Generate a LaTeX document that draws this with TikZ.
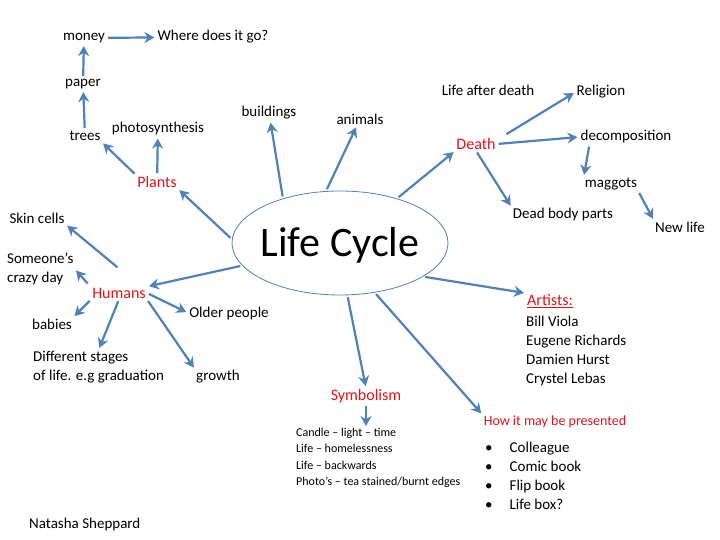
\documentclass[tikz,border=0pt]{standalone}
\usepackage{fontspec}
\setmainfont{Carlito}
\usetikzlibrary{arrows.meta,shapes.geometric}
\definecolor{ab}{HTML}{4F81BD}
\definecolor{rd}{HTML}{E3141B}
\begin{document}
\begin{tikzpicture}[x=1pt,y=-1pt,
  lab/.style={font=\fontsize{15}{19}\selectfont, inner sep=1pt},
  red lab/.style={lab, text=rd, font=\fontsize{16}{19}\selectfont},
  small/.style={font=\fontsize{12}{16.3}\selectfont, inner sep=0pt, align=left, anchor=north west},
  arr/.style={draw=ab, line width=2.2pt, -{Stealth[length=10pt,width=11pt]}, shorten >=2pt, shorten <=2pt}]
\useasboundingbox[fill=white] (0,0) rectangle (720,540);
\node[draw=ab, line width=0.8pt, ellipse, minimum width=216pt, minimum height=104pt, inner sep=0pt] (lc) at (340,243) {};
\node[font=\fontsize{42}{44}\selectfont] (lct) at (340,245) {Life Cycle};
\node[lab] (money) at (84,38) {money};
\node[lab] (where) at (213,37) {Where does it go?};
\node[lab] (paper) at (83,84) {paper};
\node[lab] (trees) at (85,136) {trees};
\node[lab] (photo) at (158,129) {photosynthesis};
\node[red lab] (plants) at (157,182) {Plants};
\node[lab] (build) at (269,113) {buildings};
\node[lab] (anim) at (360,119) {animals};
\node[lab] (lad) at (488,90) {Life after death};
\node[lab] (rel) at (601,92) {Religion};
\node[red lab] (death) at (476,144) {Death};
\node[lab] (dec) at (626,137) {decomposition};
\node[lab] (mag) at (611,184) {maggots};
\node[lab] (dbp) at (563,215) {Dead body parts};
\node[lab] (nl) at (680,227) {New life};
\node[lab] (skin) at (37,218) {Skin cells};
\node[lab, align=left, anchor=west] (crazy) at (6,269) {Someone’s\\crazy day};
\node[red lab] (hum) at (119,293) {Humans};
\node[lab] (old) at (229,313) {Older people};
\node[lab] (bab) at (52,324) {babies};
\node[lab, align=left, anchor=west] (diff) at (32,367) {Different stages\\of life. e.g graduation};
\node[lab] (grow) at (218,377) {growth};
\node[red lab, anchor=west] (art) at (526,301) {\underline{Artists:}};
\node[lab, align=left, anchor=north west, font=\fontsize{15}{18.8}\selectfont] (artl) at (525,315) {Bill Viola\\Eugene Richards\\Damien Hurst\\Crystel Lebas};
\node[red lab] (sym) at (366,396) {Symbolism};
\node[small] (syml) at (296,428) {Candle – light – time\\Life – homelessness\\Life – backwards\\Photo’s – tea stained/burnt edges};
\node[red lab, font=\fontsize{14}{16}\selectfont] (how) at (555,422) {How it may be presented};
\node[lab, align=left, anchor=north west, font=\fontsize{15}{19}\selectfont] (howl) at (484,441) {•\hspace{17pt}Colleague\\•\hspace{17pt}Comic book\\•\hspace{17pt}Flip book\\•\hspace{17pt}Life box?};
\node[lab, anchor=west] (nat) at (28,524) {Natasha Sheppard};
\draw[arr] (money) -- (where);
\draw[arr] (paper) -- (money);
\draw[arr] (trees) -- (paper);
\draw[arr] (plants.north west) -- (trees.south east);
\draw[arr] (plants) -- (photo);
\draw[arr] (lc.178) -- (plants.south east);
\draw[arr] (lc.142) -- (build);
\draw[arr] (lc.105) -- (anim);
\draw[arr] (lc.38) -- (death.south west);
\draw[arr] (death.north east) ++(8,-2) -- (rel.west);
\draw[arr] (death.east) -- (dec.west);
\draw[arr] (dec.south west) ++(10,0) -- (mag.north west);
\draw[arr] (death.south) -- (dbp.north west);
\draw[arr] (mag.south east) -- (nl.north west);
\draw[arr] (lc.193) -- (hum.north east);
\draw[arr] (hum.north) ++(0,-18) -- (skin.south east);
\draw[arr] (hum.west) ++(-2,-8) -- (crazy.east);
\draw[arr] (hum.east) -- (old.west);
\draw[arr] (hum.south west) -- (bab.north east);
\draw[arr] (hum.south) -- (diff.north);
\draw[arr] (hum.south east) -- (grow.north west);
\draw[arr] (lc.-22) -- (art.north west);
\draw[arr] (lc.-55) -- (how.north west);
\draw[arr] (lc.-82) -- (sym.north);
\draw[arr] (sym.south) -- (sym.south |- syml.north);
\end{tikzpicture}
\end{document}
